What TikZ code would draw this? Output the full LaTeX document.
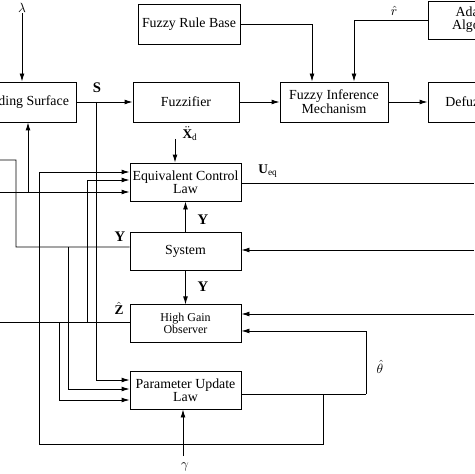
\documentclass[tikz,border=0pt]{standalone}
\usepackage{fontspec}
\setmainfont{Liberation Serif}
\usetikzlibrary{arrows.meta}
\begin{document}
\begin{tikzpicture}[x=0.75pt, y=-0.75pt, line width=0.6pt,
    blk/.style={draw, minimum width=#1, minimum height=30pt, inner sep=1pt, align=center, font=\fontsize{10.4}{8.3}\selectfont},
    sig/.style={-{Latex[length=6pt,width=3.6pt]}},
    lbl/.style={font=\fontsize{11}{11}\selectfont\bfseries, inner sep=0pt}]
    \useasboundingbox (0,0) rectangle (474,474);
    % blocks
    \node[blk=75pt] (slide) at (26,102) {Sliding Surface};
    \node[blk=76.5pt] (rule) at (189,24) {Fuzzy Rule Base};
    \node[blk=79.5pt] (fuzz) at (186,102) {Fuzzifier};
    \node[blk=81pt] (fim) at (334,102) {Fuzzy Inference\\Mechanism};
    \node[blk=73.5pt] (defu) at (477,102) {Defuzzifier};
    \node[blk=79.5pt, minimum height=28.5pt, font=\fontsize{10.4}{10}\selectfont] (adapt) at (481,20) {Adaptive\\Algorithm};
    \node[blk=83.25pt, minimum height=28.5pt, font=\fontsize{10.4}{9}\selectfont] (ecl) at (185.5,182) {Equivalent Control\\Law};
    \node[blk=83.25pt, minimum height=28pt] (sys) at (185.5,251.5) {System};
    \node[blk=83.25pt, minimum height=28pt, font=\fontsize{9}{9}\selectfont] (hgo) at (185.5,323.5) {High Gain\\Observer};
    \node[blk=83.25pt, minimum height=28.5pt, font=\fontsize{10.4}{9.75}\selectfont] (pul) at (185.5,390) {Parameter Update\\Law};
    % labels
    \node[inner sep=0pt] (lam) at (22,8) {$\lambda$};
    \node[lbl] (slbl) at (97,88) {S};
    \node[inner sep=0pt] (rhat) at (394,11) {$\hat{r}$};
    \node[inner sep=0pt] (xddl) at (190,134) {$\ddot{\mathbf{X}}_{\mathrm{d}}$};
    \node[inner sep=0pt] (ueql) at (268,171) {\textbf{U}$_{\mathrm{eq}}$};
    \node[lbl] (ysys) at (120,237) {Y};
    \node[lbl] (yup) at (203,220) {Y};
    \node[lbl] (ydn) at (203,287) {Y};
    \node[inner sep=0pt] (zlbl) at (119,308) {$\hat{\mathbf{Z}}$};
    \node[inner sep=0pt] (thlbl) at (380,367) {$\hat{\theta}$};
    \node[inner sep=0pt] (gam) at (185,467) {$\gamma$};
    % points
    \coordinate (sbr) at (96,102);
    \coordinate (yl) at (16,247);
    \coordinate (yt) at (16,160);
    \coordinate (yend) at (0,160);
    \coordinate (ybr) at (68,247);
    \coordinate (zend) at (0,322);
    \coordinate (zup) at (87,322);
    \coordinate (zdn) at (59,322);
    \coordinate (ein) at (0,192);
    \coordinate (ebr) at (28,192);
    \coordinate (th1) at (366,394);
    \coordinate (th2) at (323,394);
    \coordinate (lp) at (39,444);
    \coordinate (ueq) at (474,183);
    \coordinate (uin) at (474,250);
    \coordinate (yin) at (474,314);
    \coordinate (xd) at (175,139);
    \coordinate (gm) at (183,456);
    % top part
    \draw[sig] (lam) -- (lam |- slide.north);
    \draw[sig] (slide) -- (fuzz);
    \draw[sig] (fuzz) -- (fim);
    \draw[sig] (fim) -- (defu);
    \draw[sig] (rule.east) -| ([xshift=-16.5pt]fim.north);
    \draw[sig] (adapt.west) -| ([xshift=15pt]fim.north);
    % control part
    \draw[sig] (xd) -- (xd |- ecl.north);
    \draw[sig] (sys) -- (ecl);
    \draw[sig] (sys) -- (hgo);
    \draw (ecl.east |- ueq) -- (ueq);
    \draw[sig] (uin) -- (uin -| sys.east);
    \draw[sig] (yin) -- (yin -| hgo.east);
    \draw[sig] (sbr) |- ([yshift=7.5pt]pul.west);
    \draw ([yshift=3.4pt]sys.west) -- (yl) -- (yt) -- (yend);
    \draw[sig] (ybr) |- ([yshift=0.75pt]pul.west);
    \draw (hgo.west |- zend) -- (zend);
    \draw[sig] (zup) |- ([yshift=1.5pt]ecl.west);
    \draw[sig] (zdn) |- ([yshift=-7.5pt]pul.west);
    \draw[sig] (ein) -- (ein -| ecl.west);
    \draw[sig] (ebr) -- (ebr |- slide.south);
    % parameter loop
    \draw (pul.east |- th1) -- (th1);
    \draw[sig] (th1) |- ([yshift=-5.6pt]hgo.east);
    \draw[sig] (th2) |- (lp) |- ([yshift=7.5pt]ecl.west);
    \draw[sig] (gm) -- (gm |- pul.south);
\end{tikzpicture}
\end{document}
